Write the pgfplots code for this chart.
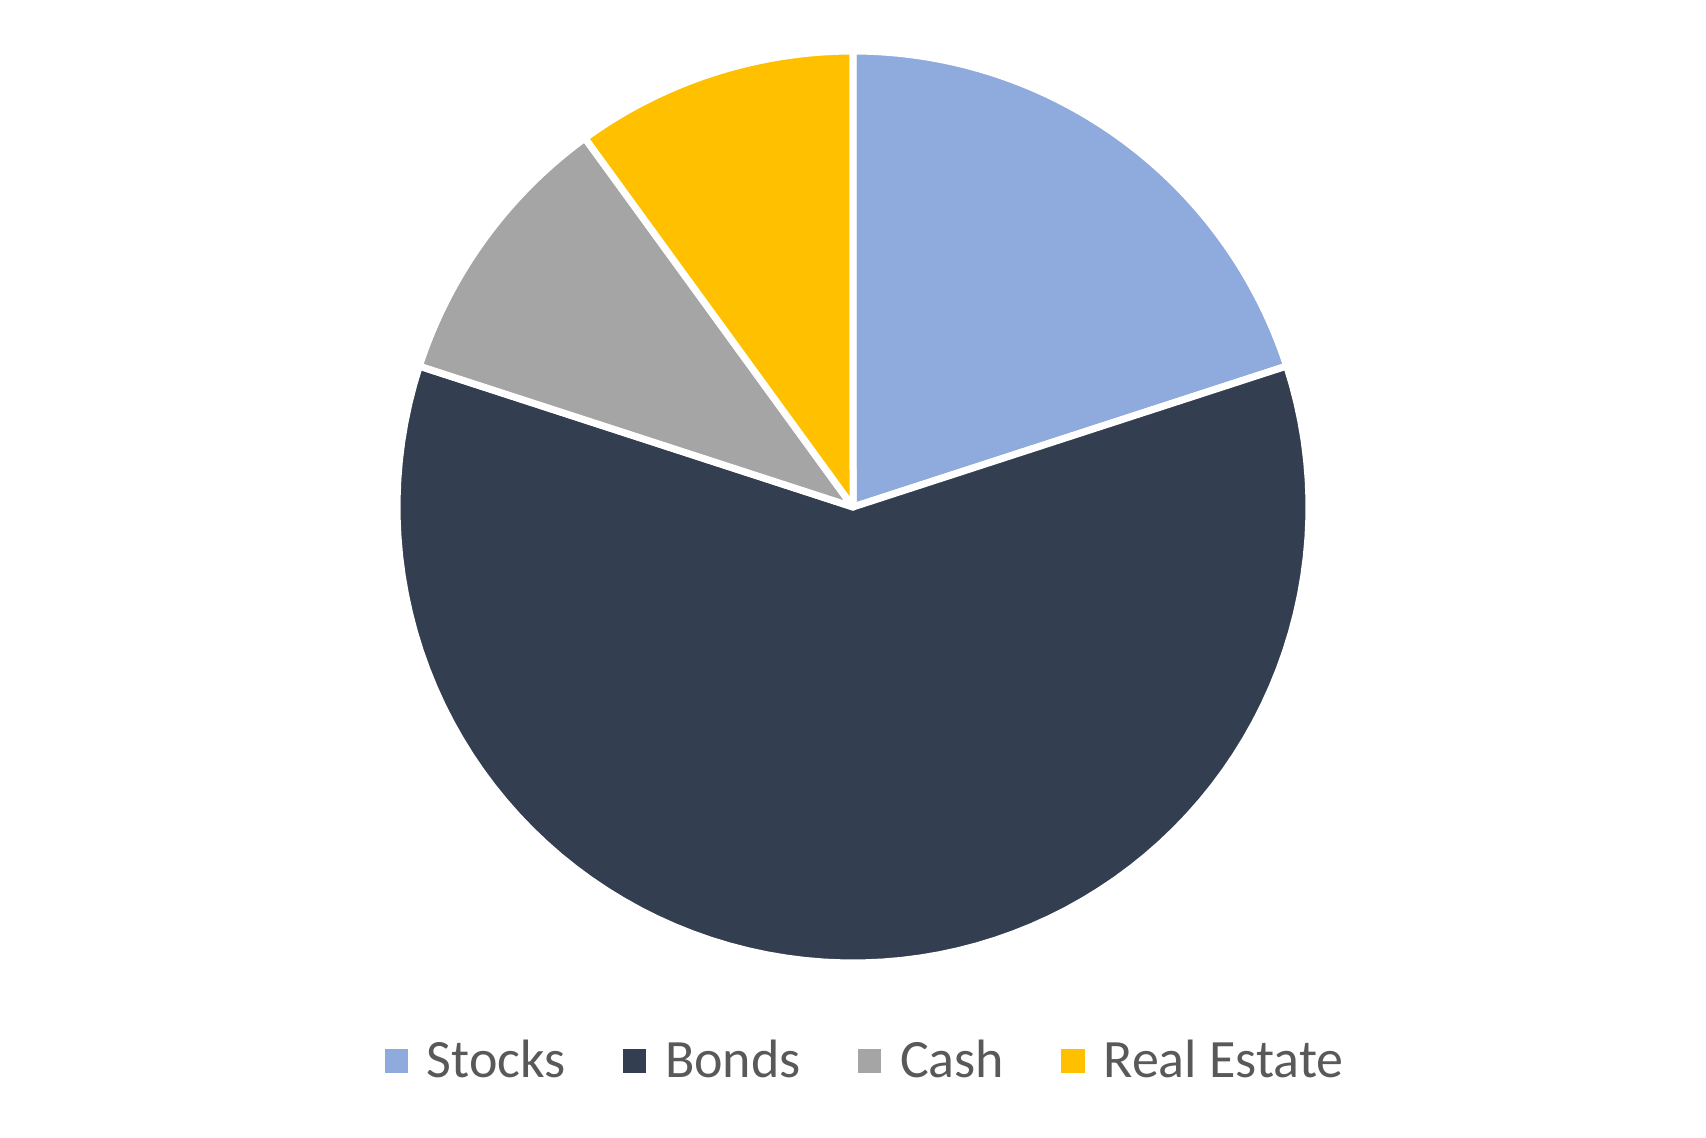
\documentclass[border=0pt]{standalone}
\usepackage{pgfplots}
\usepackage{pgfplotstable}
\pgfplotsset{compat=1.18}
\usepackage{fontspec}
\setmainfont{Carlito}

\definecolor{stocks}{HTML}{8FAADC}
\definecolor{bonds}{HTML}{333F50}
\definecolor{cash}{HTML}{A5A5A5}
\definecolor{realestate}{HTML}{FFC000}
\definecolor{legtext}{HTML}{595959}

% share of each asset class, in percent
\pgfplotstableread{
label      value
Stocks     20
Bonds      60
Cash       10
RealEstate 10
}\piedata

% slice angles, clockwise from 12 o'clock
\pgfplotstablegetelem{0}{value}\of\piedata \let\vA\pgfplotsretval
\pgfplotstablegetelem{1}{value}\of\piedata \let\vB\pgfplotsretval
\pgfplotstablegetelem{2}{value}\of\piedata \let\vC\pgfplotsretval
\pgfplotstablegetelem{3}{value}\of\piedata \let\vD\pgfplotsretval
\pgfmathsetmacro\total{\vA+\vB+\vC+\vD}
\pgfmathsetmacro\aA{90}
\pgfmathsetmacro\aB{\aA-360*(\vA/\total)}
\pgfmathsetmacro\aC{\aB-360*(\vB/\total)}
\pgfmathsetmacro\aD{\aC-360*(\vC/\total)}
\pgfmathsetmacro\aE{\aD-360*(\vD/\total)}

% pie centre and radius in pixel units of the axis
\def\cx{853}
\def\cy{630}
\def\rr{456}

\newcommand{\slice}[3]{%
  \fill[#1, draw=white, line width=2.1pt, line join=round]
    (axis cs:\cx,\cy) -- plot[domain=#2:#3, samples=90, variable=\t]
    (axis cs:{\cx+\rr*cos(\t)},{\cy+\rr*sin(\t)}) -- cycle;}

\begin{document}
\begin{tikzpicture}
\begin{axis}[
    width=511.8pt, height=341.1pt,
    scale only axis,
    hide axis,
    xmin=0, xmax=1706,
    ymin=0, ymax=1137,
    clip=false,
    legend columns=4,
    legend style={
        at={(axis cs:864,76)}, anchor=center,
        draw=none, fill=none,
        font=\fontsize{16.2}{19.4}\selectfont,
        text=legtext,
        nodes={inner sep=0pt},
        /tikz/every odd column/.append style={column sep=5.7pt},
        /tikz/every even column/.append style={column sep=17.1pt},
    },
]
\path (rel axis cs:0,0) rectangle (rel axis cs:1,1);

\slice{stocks}{\aA}{\aB}
\slice{bonds}{\aB}{\aC}
\slice{cash}{\aC}{\aD}
\slice{realestate}{\aD}{\aE}

\addlegendimage{legend image code/.code={\fill[stocks] (0pt,-3.3pt) rectangle (6.6pt,3.3pt);}}
\addlegendentry{Stocks}
\addlegendimage{legend image code/.code={\fill[bonds] (0pt,-3.3pt) rectangle (6.6pt,3.3pt);}}
\addlegendentry{Bonds}
\addlegendimage{legend image code/.code={\fill[cash] (0pt,-3.3pt) rectangle (6.6pt,3.3pt);}}
\addlegendentry{Cash}
\addlegendimage{legend image code/.code={\fill[realestate] (0pt,-3.3pt) rectangle (6.6pt,3.3pt);}}
\addlegendentry{Real Estate}
\end{axis}
\end{tikzpicture}
\end{document}
